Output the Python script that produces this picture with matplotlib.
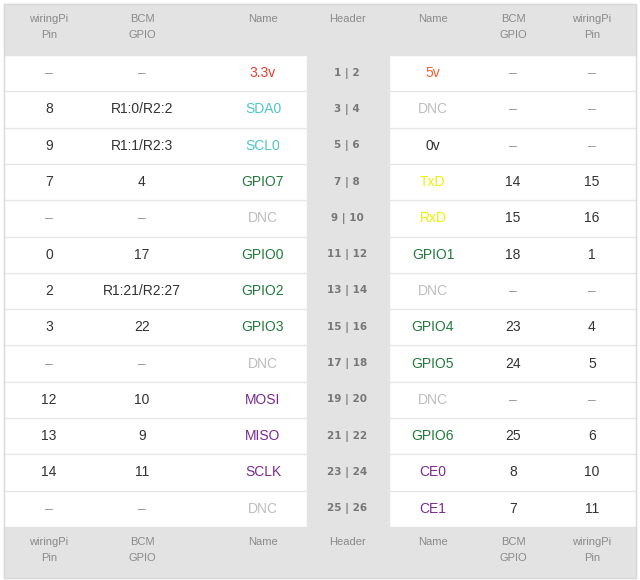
import matplotlib.pyplot as plt
from matplotlib.patches import Rectangle

# table content, one list per column
wpi_left = ['–', '8', '9', '7', '–', '0', '2', '3', '–', '12', '13', '14', '–']
bcm_left = ['–', 'R1:0/R2:2', 'R1:1/R2:3', '4', '–', '17', 'R1:21/R2:27', '22', '–', '10', '9', '11', '–']
name_left = ['3.3v', 'SDA0', 'SCL0', 'GPIO7', 'DNC', 'GPIO0', 'GPIO2', 'GPIO3', 'DNC', 'MOSI', 'MISO', 'SCLK', 'DNC']
header = ['1 | 2', '3 | 4', '5 | 6', '7 | 8', '9 | 10', '11 | 12', '13 | 14', '15 | 16', '17 | 18',
          '19 | 20', '21 | 22', '23 | 24', '25 | 26']
name_right = ['5v', 'DNC', '0v', 'TxD', 'RxD', 'GPIO1', 'DNC', 'GPIO4', 'GPIO5', 'DNC', 'GPIO6', 'CE0', 'CE1']
bcm_right = ['–', '–', '–', '14', '15', '18', '–', '23', '24', '–', '25', '8', '7']
wpi_right = ['–', '–', '–', '15', '16', '1', '–', '4', '5', '–', '6', '10', '11']
col_titles = ['wiringPi\nPin', 'BCM\nGPIO', 'Name', 'Header', 'Name', 'BCM\nGPIO', 'wiringPi\nPin']

name_colors = {'3.3v': '#f03a2a', '5v': '#f4602a', 'SDA0': '#4ec6c6', 'SCL0': '#4ec6c6',
               'DNC': '#bdbdbd', 'TxD': '#f0f000', 'RxD': '#f0f000', '0v': '#333333',
               'MOSI': '#7a2a90', 'MISO': '#7a2a90', 'SCLK': '#7a2a90', 'CE0': '#7a2a90', 'CE1': '#7a2a90'}
GREEN = '#207a3a'

fig = plt.figure(figsize=(6.4, 5.8), dpi=100)
ax = fig.add_axes([0, 0, 1, 1])
ax.set_xlim(0, 640)
ax.set_ylim(580, 0)
ax.axis('off')

x0, x1 = 4, 636
top, head_h, row_h = 4, 51, 36.3
n = len(header)
body_top = top + head_h
body_bot = body_top + n * row_h
grey = '#e3e3e3'
xs = [49, 142, 263, 347, 433, 513, 592]

ax.add_patch(Rectangle((x0, top), x1 - x0, head_h, color=grey))
ax.add_patch(Rectangle((x0, body_bot), x1 - x0, head_h, color=grey))
ax.add_patch(Rectangle((307, body_top), 82, n * row_h, color=grey))
for i in range(1, n):
    y = body_top + i * row_h
    ax.plot([x0, 307], [y, y], color='#e6e6e6', lw=1)
    ax.plot([389, x1], [y, y], color='#e6e6e6', lw=1)
ax.plot([x0, x1, x1, x0, x0], [top, top, body_bot + head_h, body_bot + head_h, top], color='#d8d8d8', lw=1)

for x, t in zip(xs, col_titles):
    for yb in (top, body_bot):
        ax.text(x, yb + 10, t, ha='center', va='top', fontsize=8, color='#8a8a8a',
                linespacing=1.75, family='Liberation Sans')

def ncol(s):
    if s.startswith('GPIO'):
        return GREEN
    return name_colors.get(s, '#333333')

for i in range(n):
    y = body_top + (i + 0.5) * row_h
    cells = [wpi_left[i], bcm_left[i], name_left[i], header[i], name_right[i], bcm_right[i], wpi_right[i]]
    for j, (x, s) in enumerate(zip(xs, cells)):
        if j == 3:
            ax.text(x, y, s, ha='center', va='center', fontsize=7.5, color='#777777', fontweight='bold')
        else:
            c = ncol(s) if j in (2, 4) else ('#999999' if s == '–' else '#333333')
            ax.text(x, y, s, ha='center', va='center', fontsize=10, color=c,
                    family='Liberation Sans')

fig.savefig('out.png', dpi=100)
